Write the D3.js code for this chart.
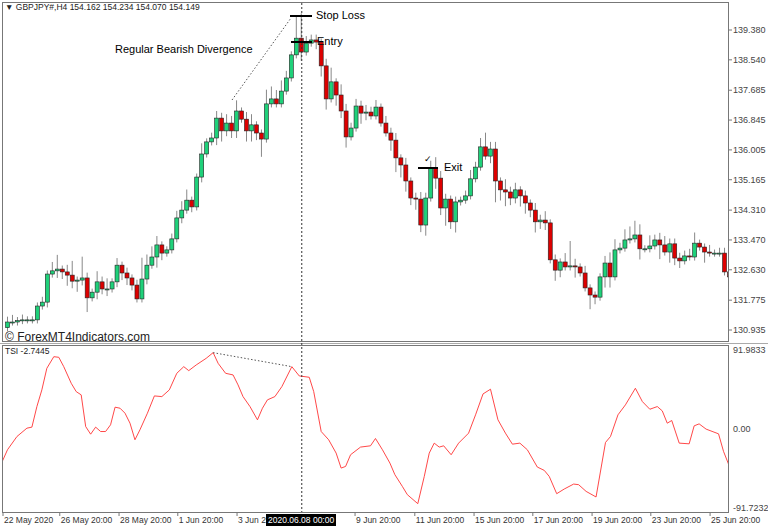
<!DOCTYPE html>
<html><head><meta charset="utf-8">
<script src="https://cdn.jsdelivr.net/npm/d3@7"></script>
<style>body{margin:0;background:#fff}svg{display:block;font-family:"Liberation Sans",Arial,sans-serif}</style>
</head><body><svg id="c" width="768" height="528"></svg>
<script>
const firstOpen = 131.00
const closes = [131.16,131.16,131.20,131.22,131.22,131.22,131.61,131.72,132.51,132.60,
132.65,132.57,132.48,132.31,132.34,132.40,131.84,132.00,132.29,132.09,
132.09,132.29,132.76,132.54,132.40,132.20,131.81,132.37,132.76,132.99,
133.33,133.10,133.19,133.50,134.09,134.31,134.59,134.40,135.24,135.89,
136.23,136.34,136.90,136.54,136.76,136.54,137.10,136.87,136.54,136.71,
136.48,136.31,137.30,137.44,137.30,137.66,138.03,138.68,139.15,138.76,
139.01,139.10,139.04,138.37,137.44,137.92,137.55,137.10,136.37,136.62,
137.24,137.04,137.07,136.96,137.21,136.76,136.48,136.28,135.78,135.58,
135.13,134.65,134.62,133.89,134.65,135.50,135.21,134.37,134.62,133.98,
134.54,134.59,134.71,135.19,135.52,136.09,135.83,136.03,135.13,134.88,
134.82,134.65,134.88,134.71,134.51,134.31,133.98,134.03,133.95,132.91,
132.62,132.85,132.71,132.74,132.71,132.54,132.12,131.92,131.86,132.43,
132.82,132.43,133.19,133.24,133.47,133.50,133.61,133.22,133.22,133.30,
133.47,133.33,133.13,133.36,132.96,132.88,133.02,132.99,133.38,133.27,
133.13,133.10,133.10,133.10,132.57,132.43]
const upWick = [.15,.2,.1,.15,.1,.1,.1,.15,.1,.25, .4,.1,.2,.4,.1,.6,.15,.1,.3,.15,
.3,.1,.2,.1,.15,.1,.15,.6,.3,.3, .25,.1,.1,.15,.2,.25,.3,.1,.1,.3,
.1,.15,.2,.15,.25,.2,.3,.1,.2,.3, .1,.1,.4,.35,.25,.3,.2,.1,.6,.7,
.2,.15,.15,.1,.2,.4,.1,.3,.2,.15, .2,.15,.2,.15,.2,.1,.2,.15,.2,.1,
.2,.1,.15,.2,.15,.2,.3,.2,.15,.1, .15,.1,.15,.25,.15,.25,.4,.2,.2,.1,
.3,.15,.2,.1,.15,.1,.2,.15,.25,.1, .15,.1,.25,.7,.2,.1,.2,.1,.1,.1,
.2,.3,.3,.15,.3,.35,.4,.3,.1,.3, .15,.2,.25,.15,.15,.15,.15,.2,.3,.1, .1,.2,.1,.15,.15,.1]
const downWick = [.1,.1,.1,.1,.1,.1,.1,.1,.15,.1, .2,.2,.3,.2,.3,.15,.4,.1,.2,.15,
.2,.1,.15,.2,.2,.15,.1,.1,.15,.1, .3,.2,.1,.1,.1,.15,.1,.15,.1,.15,
.1,.1,.2,.3,.15,.2,.2,.1,.3,.3, .2,.5,.1,.1,.1,.1,.1,.1,.1,.25,
.1,.1,.2,.3,.3,.1,.3,.2,.3,.1, .1,.3,.2,.1,.1,.1,.1,.3,.4,.35,
.3,.2,.3,.2,.3,.1,.3,.2,.5,.2, .3,.1,.1,.1,.1,.1,.1,.2,.6,.3,
.4,.2,.15,.3,.3,.2,.3,.2,.2,.1, .3,.2,.1,.1,.3,.1,.1,.4,.2,.1,
.3,.3,.1,.1,.1,.1,.1,.3,.1,.1, .1,.4,.1,.3,.2,.2,.1,.1,.1,.1, .3,.1,.1,.1,.1,.2]
// TSI traced as [candle index, value]
const tsiPoints = [[-1.4,-43.4],[0.1,-24.0],[2.0,-8.6],[4.0,1.1],[5.0,2.3],[6.0,26.2],[7.0,45.6],[8.0,70.7],[9.4,84.2],[10.4,83.5],
[11.4,72.6],[12.9,53.3],[13.9,43.6],[14.9,39.8],[15.8,3.0],[16.8,-5.9],[17.8,2.3],[18.8,-2.8],[19.8,-2.8],[20.8,5.0],
[21.7,25.5],[22.7,24.3],[23.7,18.5],[24.7,6.9],[25.7,-12.4],[26.7,-0.8],[28.2,18.5],[29.6,38.6],[31.1,37.8],[32.6,45.6],
[34.1,64.9],[35.5,72.6],[36.5,68.0],[38.0,74.6],[40.0,82.3],[41.4,88.9],[42.4,76.5],[43.9,64.9],[45.4,63.0],[46.4,51.4],
[47.4,37.8],[48.8,26.2],[50.3,10.8],[51.3,24.3],[52.3,34.0],[53.8,37.8],[55.2,49.4],[57.2,72.6],[58.7,61.8],[60.7,60.3],
[61.6,43.6],[63.1,-2.8],[64.6,-12.4],[66.1,-27.9],[67.1,-45.3],[68.0,-43.4],[69.0,-29.8],[71.0,-20.9],[73.0,-19.4],[74.0,-10.9],
[75.4,-24.0],[76.9,-39.5],[77.9,-53.0],[79.4,-66.6],[80.4,-76.2],[82.5,-86.7],[83.8,-55.0],[84.8,-27.9],[85.8,-16.3],[86.8,-20.9],
[87.7,-19.4],[89.2,-29.8],[90.7,-16.3],[92.7,-4.7],[94.1,16.6],[95.6,40.9],[97.1,46.4],[98.6,10.8],[100.1,-4.7],[101.5,-17.5],
[103.0,-16.3],[104.5,-24.0],[106.5,-44.1],[107.9,-48.0],[108.9,-55.0],[110.4,-75.1],[111.9,-69.7],[113.8,-63.9],[114.8,-64.6],[116.3,-72.4],
[118.3,-78.9],[120.2,-15.5],[121.2,-8.6],[122.7,16.6],[124.2,28.2],[126.2,47.5],[127.6,32.0],[129.1,23.1],[130.6,26.2],[131.6,21.2],
[132.6,6.9],[133.5,10.0],[135.0,-16.3],[137.0,-17.1],[138.0,3.8],[139.0,6.1],[140.4,0.0],[142.9,-5.5],[143.9,-25.9],[145.4,-48.0]]
const priceTicks = [139.380,138.540,137.685,136.845,136.005,135.165,134.310,133.470,132.630,131.775,130.935]
const timeLabels = [[-1,"22 May 2020"],[10.6,"26 May 20:00"],[22.5,"28 May 20:00"],[34.3,"1 Jun 20:00"],[46.2,"3 Jun 20:00"],
[69.9,"9 Jun 20:00"],[81.9,"11 Jun 20:00"],[93.8,"15 Jun 20:00"],[105.6,"17 Jun 20:00"],[117.5,"19 Jun 20:00"],[129.3,"23 Jun 20:00"],[141.2,"25 Jun 20:00"]]

const svg = d3.select('#c')
const X = d3.scaleLinear().domain([0, 145]).range([7, 729])
const Y = d3.scaleLinear().domain([130.935, 139.380]).range([330, 30])
const T = d3.scaleLinear().domain([-91.7232, 91.9833]).range([508, 350])
const candles = closes.map((c, i) => {
	const o = i ? closes[i-1] : firstOpen
	return {i, o, c, h: Math.max(o, c) + upWick[i], l: Math.min(o, c) - downWick[i]}
})

svg.append('defs').append('clipPath').attr('id','mc').append('rect').attr('x',3).attr('y',3).attr('width',725).attr('height',338)
svg.append('defs').append('clipPath').attr('id','tc').append('rect').attr('x',3).attr('y',346).attr('width',725).attr('height',166)

// frames
svg.append('rect').attr('x',2.5).attr('y',2.5).attr('width',726).attr('height',339).attr('fill','none').attr('stroke','#777')
svg.append('rect').attr('x',2.5).attr('y',345.5).attr('width',726).attr('height',167).attr('fill','none').attr('stroke','#777')
svg.append('line').attr('x1',0).attr('x2',768).attr('y1',343.5).attr('y2',343.5).attr('stroke','#aaa')

const main = svg.append('g').attr('clip-path','url(#mc)')
main.selectAll('line.w').data(candles).join('line').attr('class','w')
	.attr('x1', d => X(d.i)+0.5).attr('x2', d => X(d.i)+0.5)
	.attr('y1', d => Y(d.h)).attr('y2', d => Y(d.l)).attr('stroke','#888')
main.selectAll('rect.b').data(candles).join('rect').attr('class','b')
	.attr('x', d => X(d.i)-1.5).attr('width', 4)
	.attr('y', d => Y(Math.max(d.o, d.c))).attr('height', d => Math.max(1, Math.abs(Y(d.o)-Y(d.c))))
	.attr('fill', d => d.c >= d.o ? '#1fd17a' : '#dd0000').attr('stroke','#222').attr('stroke-width',0.6)

// right price axis
const ax = svg.append('g').attr('font-size',9).attr('fill','#444')
priceTicks.forEach(p => {
	ax.append('line').attr('x1',728).attr('x2',732).attr('y1',Y(p)).attr('y2',Y(p)).attr('stroke','#777')
	ax.append('text').attr('x',733).attr('y',Y(p)+3).text(p.toFixed(3))
})
;[91.9833, 0, -91.7232].forEach(v => {
	ax.append('text').attr('x',733).attr('y',T(v)+3).text(v === 0 ? '0.00' : v.toFixed(4))
})

// TSI line
const tsi = svg.append('g').attr('clip-path','url(#tc)')
tsi.append('path').datum(tsiPoints)
	.attr('d', d3.line().x(d => X(d[0])).y(d => T(d[1])))
	.attr('fill','none').attr('stroke','#ff3333').attr('stroke-width',0.9)

// time axis
const tx = svg.append('g').attr('font-size',8.5).attr('fill','#333')
timeLabels.forEach(([i, s]) => {
	const x = Math.max(3, X(i))
	tx.append('line').attr('x1',x).attr('x2',x).attr('y1',512).attr('y2',516).attr('stroke','#777')
	tx.append('text').attr('x',x+1).attr('y',523).text(s)
})
tx.append('rect').attr('x',266).attr('y',514).attr('width',70).attr('height',12).attr('fill','#000')
tx.append('text').attr('x',268).attr('y',523).attr('fill','#fff').text('2020.06.08 00:00')

// annotations
const an = svg.append('g')
an.append('line').attr('x1',X(59)+1).attr('x2',X(59)+1).attr('y1',3).attr('y2',512).attr('stroke','#333').attr('stroke-dasharray','2,2')
an.append('line').attr('x1',232).attr('y1',100).attr('x2',291).attr('y2',18).attr('stroke','#555').attr('stroke-dasharray','1.5,2')
an.append('line').attr('x1',X(41.4)).attr('y1',T(88.9)).attr('x2',X(57.2)).attr('y2',T(72.6)).attr('stroke','#555').attr('stroke-dasharray','1.5,2')
an.append('line').attr('x1',290).attr('x2',312).attr('y1',16).attr('y2',16).attr('stroke','#000').attr('stroke-width',2)
an.append('line').attr('x1',291).attr('x2',312).attr('y1',42).attr('y2',42).attr('stroke','#000').attr('stroke-width',2)
an.append('line').attr('x1',418).attr('x2',438).attr('y1',168).attr('y2',168).attr('stroke','#000').attr('stroke-width',2)
an.append('text').attr('x',316).attr('y',19).attr('font-size',11).text('Stop Loss')
an.append('text').attr('x',317).attr('y',45).attr('font-size',11).text('Entry')
an.append('text').attr('x',444).attr('y',171).attr('font-size',11).text('Exit')
an.append('text').attr('x',424).attr('y',162).attr('font-size',9).text('✓')
an.append('text').attr('x',115).attr('y',53).attr('font-size',11).text('Regular Bearish Divergence')
an.append('text').attr('x',5).attr('y',10).attr('font-size',8.5).attr('fill','#222').text('▼ GBPJPY#,H4  154.162 154.234 154.070 154.149')
an.append('text').attr('x',5).attr('y',341).attr('font-size',12).attr('fill','#222').text('© ForexMT4Indicators.com')
an.append('text').attr('x',5).attr('y',354).attr('font-size',8.5).attr('fill','#222').text('TSI -2.7445')
</script></body></html>
